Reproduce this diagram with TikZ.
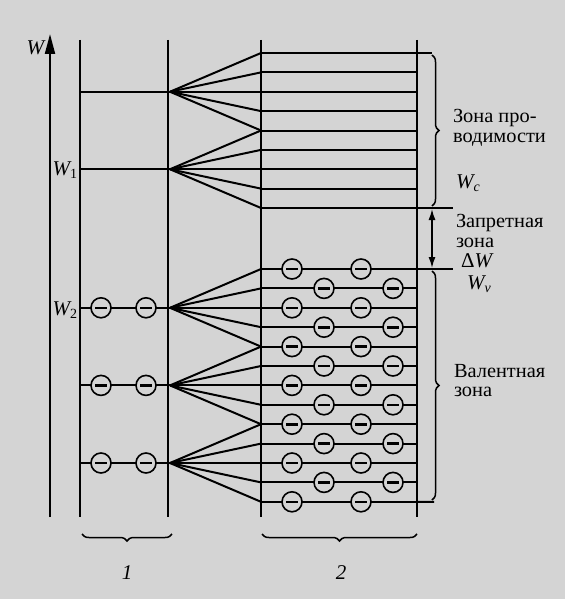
\documentclass[tikz,border=0pt]{standalone}
\usepackage{fontspec}
\setmainfont{Liberation Serif}
\newfontfamily\rufont[FakeStretch=1.02]{Liberation Serif}
\usetikzlibrary{decorations.pathreplacing,arrows.meta}
\definecolor{paper}{RGB}{212,212,212}
\newcommand{\sbs}[1]{\raisebox{-0.35ex}{\fontsize{14}{14}\selectfont #1}}
\begin{document}
\begin{tikzpicture}[x=1pt,y=-1pt,line width=2pt,
  lbl/.style={inner sep=0pt,font=\fontsize{21}{21}\selectfont},
  rulbl/.style={inner sep=0pt,font=\fontsize{20}{20}\selectfont\rufont},
  bracestyle/.style={line width=1.5pt,decorate,decoration={brace,amplitude=7pt}},
  electron/.pic={\draw[fill=paper,line width=1.6pt] (0,0) circle[radius=10pt];
                 \draw[line width=2.6pt] (-6,0)--(6,0);}]
\fill[paper] (0,0) rectangle (565,599);
\useasboundingbox (0,0) rectangle (565,599);
% energy axis
\coordinate (axB) at (50,517); \coordinate (axT) at (50,34);
\draw[-{Triangle[length=20pt,width=10pt]}] (axB) -- (axT);
\node[lbl,anchor=base east] (Wlab) at (45,55) {\itshape W};
% vertical lines
\foreach \n/\x in {a/80,b/168,c/261,d/417}{
  \coordinate (\n T) at (\x,40); \coordinate (\n B) at (\x,517);
  \draw (\n T) -- (\n B);}
% conduction band lines
\foreach \i in {0,...,8}{
  \coordinate (cL\i) at (261,{53+19.375*\i});
  \coordinate (cR\i) at (417,{53+19.375*\i});
  \draw (cL\i) -- (cR\i);}
% valence band lines
\foreach \j in {0,...,12}{
  \coordinate (vL\j) at (261,{269+19.4*\j});
  \coordinate (vR\j) at (417,{269+19.4*\j});
  \draw (vL\j) -- (vR\j);}
% atomic levels (upper) and fans
\foreach \k/\c in {1/2,2/6}{
  \coordinate (uL\k) at (80,{53+19.375*\c});
  \coordinate (uA\k) at (170,{53+19.375*\c});
  \draw (uL\k) -- (uA\k);
  \foreach \d in {-2,...,2}{
    \pgfmathtruncatemacro{\t}{\c+\d}
    \draw (uA\k) -- (cL\t);}}
% atomic levels (lower) and fans
\foreach \k/\c in {1/2,2/6,3/10}{
  \coordinate (lL\k) at (80,{269+19.4*\c});
  \coordinate (lA\k) at (170,{269+19.4*\c});
  \draw (lL\k) -- (lA\k);
  \foreach \d in {-2,...,2}{
    \pgfmathtruncatemacro{\t}{\c+\d}
    \draw (lA\k) -- (vL\t);}
  \pic at (101,{269+19.4*\c}) {electron};
  \pic at (146,{269+19.4*\c}) {electron};}
% electrons in valence band
\foreach \j in {0,2,...,12}{
  \pic at (292,{269+19.4*\j}) {electron};
  \pic at (361,{269+19.4*\j}) {electron};}
\foreach \j in {1,3,...,11}{
  \pic at (324,{269+19.4*\j}) {electron};
  \pic at (393,{269+19.4*\j}) {electron};}
% line extensions
\coordinate (cE0) at (432,53);
\coordinate (cE8) at (453,208);
\coordinate (vE0) at (453,269);
\coordinate (vE12) at (434,501.8);
\draw (cR0) -- (cE0);
\draw (cR8) -- (cE8);
\draw (vR0) -- (vE0);
\draw (vR12) -- (vE12);
% braces
\draw[bracestyle] (432,55) -- (432,206);
\draw[bracestyle] (432,271) -- (432,500);
\draw[bracestyle] (172,534) -- (82,534);
\draw[bracestyle] (417,534) -- (262,534);
% gap arrow
\coordinate (gT) at (432,209); \coordinate (gB) at (432,268);
\draw[line width=1.5pt,{Latex[length=11pt,width=7pt]}-{Latex[length=11pt,width=7pt]}] (gT) -- (gB);
% labels
\node[rulbl,anchor=base west] (t1) at (452,123) {Зона про-};
\node[rulbl,anchor=base west] (t2) at (452,142) {водимости};
\node[lbl,anchor=base west] (tWc) at (455,188) {\itshape W\sbs{c}};
\node[rulbl,anchor=base west] (t3) at (455,227) {Запретная};
\node[rulbl,anchor=base west] (t4) at (455,247) {зона};
\node[lbl,anchor=base west] (tdW) at (460,267) {Δ\itshape W};
\node[lbl,anchor=base west] (tWv) at (466,289) {\itshape W\sbs{v}};
\node[rulbl,anchor=base west] (t5) at (453,377) {Валентная};
\node[rulbl,anchor=base west] (t6) at (453,396) {зона};
\node[lbl,anchor=base east] (tW1) at (78,175) {\itshape W\sbs{\upshape 1}};
\node[lbl,anchor=base east] (tW2) at (78,315) {\itshape W\sbs{\upshape 2}};
\node[lbl,anchor=base] (n1) at (127,579) {\itshape 1};
\node[lbl,anchor=base] (n2) at (341,579) {\itshape 2};
\end{tikzpicture}
\end{document}
